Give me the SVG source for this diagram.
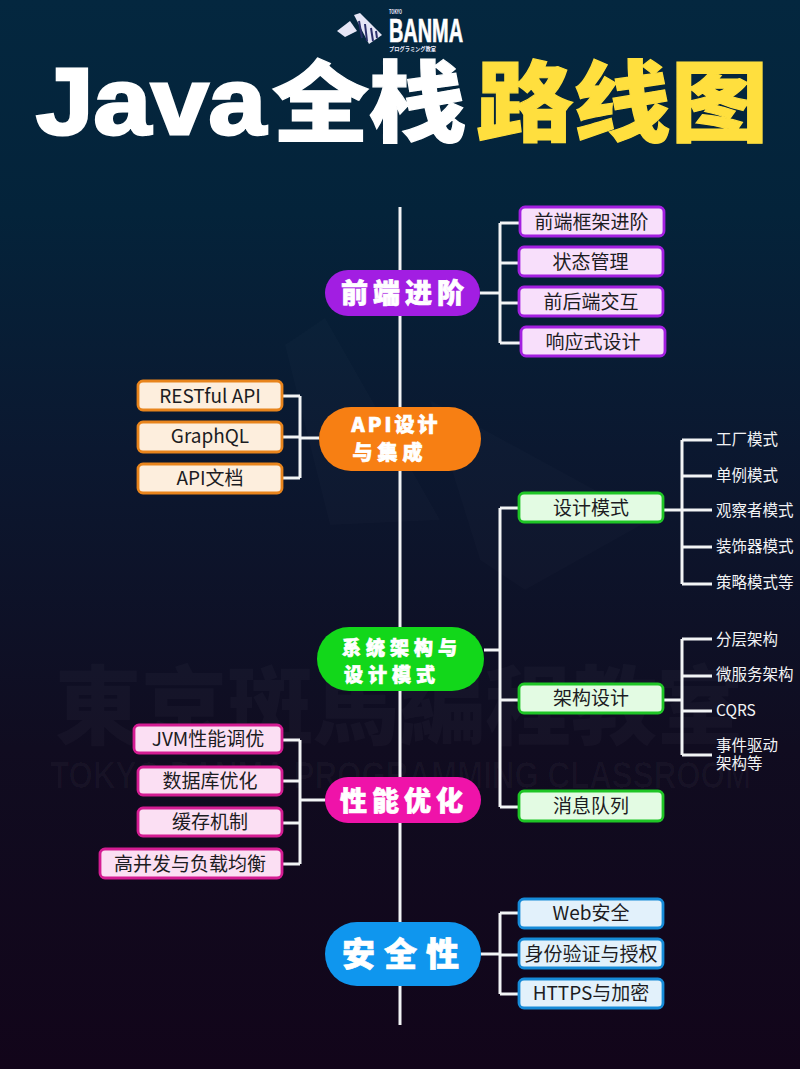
<svg xmlns="http://www.w3.org/2000/svg" width="800" height="1069" viewBox="0 0 800 1069">
<style>
text{font-family:"Noto Sans CJK SC","Noto Sans",sans-serif}
.line{fill:none;stroke:#f2f4f5;stroke-width:3}
.box{stroke-width:2.8}
.bt{font-size:19px;font-weight:400;fill:#1c1c22;text-anchor:middle}
.pt{font-weight:900;fill:#fff;stroke:#fff;stroke-width:.7;text-anchor:middle}
.leaf{font-size:15.5px;font-weight:400;fill:#f2f3f5}
.purple rect.box{fill:#f8dffb;stroke:#a31fe0}
.orange rect.box{fill:#fdeedd;stroke:#e8841c}
.green rect.box{fill:#e3fbe3;stroke:#1fc526}
.pink rect.box{fill:#fbdff3;stroke:#d41c92}
.blue rect.box{fill:#e2f1fb;stroke:#168bd8}
.title{font-weight:900;stroke-width:1.2;stroke-linejoin:miter}
.wm{fill:#fff;fill-opacity:.028;font-weight:900}
.wml{stroke:#fff;stroke-opacity:.02;stroke-width:2.5}
</style>
<defs>
<linearGradient id="bg" x1="0" y1="0" x2="0" y2="1">
<stop offset="0" stop-color="#04273f"/>
<stop offset=".2" stop-color="#04233a"/>
<stop offset=".42" stop-color="#0b1830"/>
<stop offset=".7" stop-color="#100c20"/>
<stop offset="1" stop-color="#12051a"/>
</linearGradient>
</defs>
<rect width="800" height="1069" fill="url(#bg)"/>
<g id="watermark">
<polygon points="285,345 325,318 440,520 330,525" fill="#fff" fill-opacity=".016"/>
<polygon points="430,400 650,520 525,590 480,560" fill="#fff" fill-opacity=".016"/>
<text class="wm" x="55" y="738" font-size="86">東京斑馬編程教室</text>
<text class="wm wml" transform="translate(50,788) scale(.87,1.05)" font-size="36" style="font-family:'Liberation Sans',sans-serif">TOKYO BANMA PROGRAMMING CLASSROOM</text>
</g>
<g id="logo">
<polygon points="337,31 350,21 357,31 345,37" fill="#e6e6f6"/>
<polygon points="354,15 360,13 382,35 369,44" fill="#e6e6f6"/>
<path d="M359,21 362,38M365,24 367,41M371,28 373,41M376,31 377,38" stroke="#2b2f6b" stroke-width="2" fill="none"/>
<text x="389" y="14" font-size="6.5" font-weight="700" fill="#eef" textLength="13" lengthAdjust="spacingAndGlyphs">TOKYO</text>
<text x="389" y="42" font-size="34" font-weight="700" fill="#fff" stroke="#fff" stroke-width=".7" textLength="74" lengthAdjust="spacingAndGlyphs" style="font-family:'Liberation Sans',sans-serif">BANMA</text>
<text x="389" y="51" font-size="6" font-weight="700" fill="#eef" textLength="47" lengthAdjust="spacingAndGlyphs">プログラミング教室</text>
</g>
<g id="title">
<text class="title" x="36" y="134" font-size="94" fill="#fff" stroke="#fff" textLength="230" lengthAdjust="spacingAndGlyphs" style="font-family:'Liberation Sans',sans-serif;stroke-width:3">Java</text>
<text class="title" x="272" y="134" font-size="88" fill="#fff" stroke="#fff" textLength="194" lengthAdjust="spacingAndGlyphs">全栈</text>
<text class="title" x="476" y="134" font-size="88" fill="#ffdf3e" stroke="#ffdf3e" textLength="292" lengthAdjust="spacingAndGlyphs">路线图</text>
</g>
<g id="connectors">
<path class="line" d="M400,207V1025"/>
<path class="line" d="M480,293H500M500,223V343M500,223H519M500,263H518M500,303H518M500,343H520"/>
<path class="line" d="M319,438H300M300,396V478M283,396H300M283,437H300M283,478H300"/>
<path class="line" d="M484,650H500M500,508V807M500,508H518M500,700H518M500,807H518"/>
<path class="line" d="M664,510H682M682,440V584M682,440H712M682,476H712M682,510H712M682,547H712M682,584H712"/>
<path class="line" d="M664,700H682M682,639V755M682,639H712M682,676H712M682,711H712M682,755H712"/>
<path class="line" d="M325,800H300M300,740V864M283,740H300M283,781H300M283,823H300M283,864H300"/>
<path class="line" d="M481,954H500M500,913V994M500,913H518M500,955H518M500,994H518"/>
</g>
<g id="frontend" class="purple">
<rect x="325" y="270" width="155" height="46" rx="23" fill="#a21ee2"/>
<text class="pt" x="405" y="303" font-size="27" letter-spacing="5">前端进阶</text>
</g>
<g id="frontend-1" class="purple"><rect class="box" x="520" y="207" width="144" height="29" rx="5"/><text class="bt" x="591.5" y="229">前端框架进阶</text></g>
<g id="frontend-2" class="purple"><rect class="box" x="519" y="247" width="144" height="29" rx="5"/><text class="bt" x="590.5" y="269">状态管理</text></g>
<g id="frontend-3" class="purple"><rect class="box" x="519" y="287" width="144" height="29" rx="5"/><text class="bt" x="591" y="309">前后端交互</text></g>
<g id="frontend-4" class="purple"><rect class="box" x="521" y="327" width="144" height="29" rx="5"/><text class="bt" x="593" y="349">响应式设计</text></g>

<g id="api" class="orange">
<rect x="319" y="407" width="162" height="64" rx="32" fill="#f77f13"/>
<text class="pt" x="396" y="432" font-size="20" letter-spacing="3">API设计</text>
<text class="pt" x="390" y="460" font-size="20" letter-spacing="5">与集成</text>
</g>
<g id="api-1" class="orange"><rect class="box" x="138" y="381" width="144" height="29" rx="5"/><text class="bt" x="210" y="403">RESTful API</text></g>
<g id="api-2" class="orange"><rect class="box" x="138" y="422" width="144" height="30" rx="5"/><text class="bt" x="210" y="443">GraphQL</text></g>
<g id="api-3" class="orange"><rect class="box" x="138" y="464" width="144" height="29" rx="5"/><text class="bt" x="210" y="485">API文档</text></g>

<g id="arch" class="green">
<rect x="317" y="627" width="167" height="64" rx="32" fill="#12d71a"/>
<text class="pt" x="402" y="655" font-size="19" letter-spacing="5">系统架构与</text>
<text class="pt" x="392" y="682" font-size="19" letter-spacing="5">设计模式</text>
</g>
<g id="arch-1" class="green"><rect class="box" x="519" y="493" width="144" height="29" rx="5"/><text class="bt" x="591" y="515">设计模式</text></g>
<g id="arch-2" class="green"><rect class="box" x="519" y="684" width="144" height="29" rx="5"/><text class="bt" x="591" y="705">架构设计</text></g>
<g id="arch-3" class="green"><rect class="box" x="519" y="791" width="144" height="30" rx="5"/><text class="bt" x="591" y="813">消息队列</text></g>

<g id="patterns">
<text class="leaf" x="716" y="445">工厂模式</text>
<text class="leaf" x="716" y="481">单例模式</text>
<text class="leaf" x="716" y="516">观察者模式</text>
<text class="leaf" x="716" y="552">装饰器模式</text>
<text class="leaf" x="716" y="588">策略模式等</text>
</g>
<g id="arch-leaves">
<text class="leaf" x="716" y="645">分层架构</text>
<text class="leaf" x="716" y="680">微服务架构</text>
<text class="leaf" x="716" y="716">CQRS</text>
<text class="leaf" x="716" y="751">事件驱动</text>
<text class="leaf" x="716" y="769">架构等</text>
</g>

<g id="perf" class="pink">
<rect x="325" y="777" width="156" height="46" rx="23" fill="#ef13a9"/>
<text class="pt" x="404" y="811" font-size="27" letter-spacing="5">性能优化</text>
</g>
<g id="perf-1" class="pink"><rect class="box" x="134" y="725" width="148" height="28" rx="5"/><text class="bt" x="208" y="746">JVM性能调优</text></g>
<g id="perf-2" class="pink"><rect class="box" x="138" y="767" width="144" height="28" rx="5"/><text class="bt" x="210" y="788">数据库优化</text></g>
<g id="perf-3" class="pink"><rect class="box" x="138" y="808" width="144" height="28" rx="5"/><text class="bt" x="210" y="829">缓存机制</text></g>
<g id="perf-4" class="pink"><rect class="box" x="100" y="849" width="182" height="29" rx="5"/><text class="bt" x="190" y="871">高并发与负载均衡</text></g>

<g id="security" class="blue">
<rect x="325" y="922" width="156" height="64" rx="32" fill="#0f96ee"/>
<text class="pt" x="405" y="966" font-size="33" letter-spacing="9">安全性</text>
</g>
<g id="security-1" class="blue"><rect class="box" x="519" y="899" width="144" height="29" rx="5"/><text class="bt" x="591" y="920">Web安全</text></g>
<g id="security-2" class="blue"><rect class="box" x="519" y="939" width="144" height="29" rx="5"/><text class="bt" x="591" y="961">身份验证与授权</text></g>
<g id="security-3" class="blue"><rect class="box" x="519" y="979" width="144" height="29" rx="5"/><text class="bt" x="591" y="1000">HTTPS与加密</text></g>
</svg>
